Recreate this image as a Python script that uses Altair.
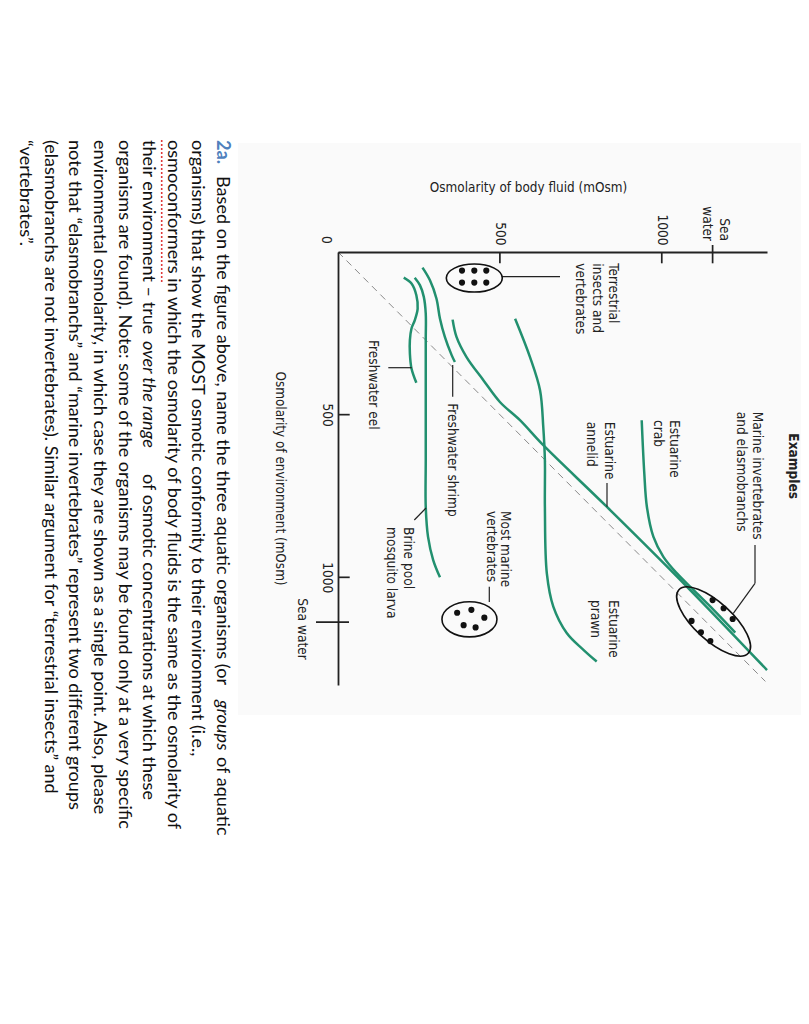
import altair as alt
import pandas as pd

# ---------------- data (mOsm) ----------------
BF_MAX = 1325          # extent of the body-fluid axis
ENV_MAX = 1331         # extent of the environment axis
AXIS_TICKS = [500, 1000]
SEA_WATER_BF = 1157
SEA_WATER_ENV = 1138
ISO_LINE = [0, 1320]

# curves: body-fluid osmolarity (bf) vs environment osmolarity (env)
eel_bf = [203, 227, 242, 246, 237, 227, 222, 222, 227, 242]
eel_env = [79, 97, 133, 174, 210, 235, 271, 312, 358, 402]
larva_bf = [237, 253, 265, 271, 271, 271, 271, 278, 294, 315]
larva_env = [79, 102, 138, 189, 271, 640, 783, 875, 947, 1000]
shrimp_bf = [261, 284, 304, 315, 330, 351, 361]
shrimp_env = [48, 87, 143, 205, 261, 317, 338]
annelid_bf = [354, 366, 397, 449, 500, 562, 634, 830, 1078, 1325]
annelid_env = [208, 261, 323, 394, 461, 517, 594, 783, 1029, 1285]
prawn_bf = [547, 593, 624, 634, 639, 639, 645, 665, 707, 758, 799]
prawn_env = [205, 323, 425, 538, 640, 783, 988, 1090, 1172, 1223, 1259]
crab_bf = [938, 946, 954, 974, 1005, 1047, 1098, 1160, 1227]
crab_env = [517, 680, 783, 875, 937, 988, 1039, 1100, 1170]

# groups shown as clusters of points
terr_bf = [383, 421, 458, 383, 421, 458]
terr_env = [57, 57, 57, 94, 94, 94]
mvert_bf = [368, 412, 452, 388, 425]
mvert_env = [1109, 1100, 1124, 1147, 1154]
minv_bf = [1157, 1191, 1219, 1092, 1121, 1150]
minv_env = [1070, 1095, 1128, 1134, 1169, 1196]
cluster_center_bf = [421, 406, 1160]
cluster_center_env = [80, 1129, 1136]

# ---------------- layout ----------------
W, H = 429, 433
KX, KY = W / BF_MAX, H / ENV_MAX
X0, Y0 = 338, 252          # page position of the axes corner


def bf_at(px):
    return (px - X0) / KX


def env_at(py):
    return (py - Y0) / KY


TEAL = "#22906f"
INK = "#222222"
FIG_FONT = "DejaVu Sans Condensed, Liberation Sans, sans-serif"
FIG_SIZE = 13.6
TXT_FONT = "Lato, Open Sans, sans-serif"
TXT_SIZE = 18.1

SX = alt.Scale(domain=[0, BF_MAX], nice=False, zero=False)
SY = alt.Scale(domain=[0, ENV_MAX], nice=False, zero=False, reverse=True)

AX = alt.Axis(orient="top", values=AXIS_TICKS, format="d", ticks=False, grid=False, zindex=2,
              domainColor=INK, domainWidth=1.8, labelAngle=90,
              labelAlign="right", labelBaseline="middle", labelPadding=7,
              labelFont=FIG_FONT, labelFontSize=FIG_SIZE, labelColor=INK,
              labelFlush=False, labelOverlap=False,
              title="Osmolarity of body fluid (mOsm)", titleFont=FIG_FONT,
              titleFontSize=13.4, titleFontWeight="normal", titleColor=INK,
              titleAngle=0, titleX=190, titleY=-65, titleAlign="center",
              titleBaseline="middle")
AY = alt.Axis(orient="left", values=AXIS_TICKS, format="d", ticks=False, grid=False, zindex=2,
              domainColor=INK, domainWidth=1.8, labelAngle=90,
              labelAlign="center", labelBaseline="top", labelPadding=5,
              labelFont=FIG_FONT, labelFontSize=FIG_SIZE, labelColor=INK,
              labelFlush=False, labelOverlap=False,
              title="Osmolarity of environment (mOsm)", titleFont=FIG_FONT,
              titleFontSize=13.4, titleFontWeight="normal", titleColor=INK,
              titleAngle=90, titleX=-59, titleY=226, titleAlign="center",
              titleBaseline="middle")


def ex(f="bf"):
    return alt.X(f"{f}:Q", scale=SX, axis=AX)


def ey(f="env"):
    return alt.Y(f"{f}:Q", scale=SY, axis=AY)


# ---------------- tables ----------------
curves = []
for name, bs, es in [("eel", eel_bf, eel_env), ("larva", larva_bf, larva_env),
                     ("shrimp", shrimp_bf, shrimp_env), ("annelid", annelid_bf, annelid_env),
                     ("prawn", prawn_bf, prawn_env), ("crab", crab_bf, crab_env)]:
    for i, (b, e) in enumerate(zip(bs, es)):
        curves.append(dict(series=name, i=i, bf=b, env=e))
curves = pd.DataFrame(curves)

iso = pd.DataFrame({"bf": ISO_LINE, "env": ISO_LINE})

dots = pd.DataFrame({"bf": terr_bf + mvert_bf + minv_bf,
                     "env": terr_env + mvert_env + minv_env})

# inward ticks (lengths in px converted to mOsm)
tin_y, tin_x = 11.3 / KY, 11.7 / KX
ticks = pd.DataFrame(
    [dict(bf=v, bf2=v, env=0, env2=tin_y) for v in AXIS_TICKS]
    + [dict(bf=SEA_WATER_BF, bf2=SEA_WATER_BF, env=-7 / KY, env2=tin_y)]
    + [dict(bf=0, bf2=tin_x, env=v, env2=v) for v in AXIS_TICKS]
    + [dict(bf=-22 / KX, bf2=11 / KX, env=SEA_WATER_ENV, env2=SEA_WATER_ENV)]
)

# leader lines (page px -> mOsm)
leader_px = [
    (502, 276.7, 560, 276.7), (388.3, 367.7, 411.7, 367.7),
    (452.7, 365, 452.7, 396.7), (426, 508, 414.3, 520),
    (607, 483, 607, 506.7), (489.3, 586.7, 489.3, 602),
    (755, 545, 755, 583.3), (755, 583.3, 733.3, 613.3),
]
leaders = pd.DataFrame([dict(bf=bf_at(a), env=env_at(b), bf2=bf_at(c), env2=env_at(d))
                        for a, b, c, d in leader_px])

# labels: text, page x of text centre, page y of text start
label_px = [
    ("Marine invertebrates", 757, 411.7), ("and elasmobranchs", 740.5, 411.7),
    ("Estuarine", 674, 420), ("crab", 657.5, 420),
    ("Terrestrial", 613.3, 263.3), ("insects and", 596.7, 263.3), ("vertebrates", 580, 263.3),
    ("Estuarine", 608.7, 421.7), ("annelid", 590.5, 421.7),
    ("Estuarine", 612.8, 600), ("prawn", 594.8, 600),
    ("Most marine", 505, 511), ("vertebrates", 490.5, 511),
    ("Freshwater shrimp", 451.7, 403.3),
    ("Brine pool", 408, 527), ("mosquito larva", 391, 527),
    ("Freshwater eel", 373.2, 340),
]
labels = pd.DataFrame([dict(label=t, bf=bf_at(x), env=env_at(y)) for t, x, y in label_px])
examples = pd.DataFrame([dict(label="Examples", bf=bf_at(793.3), env=env_at(433.3))])
sea_top = pd.DataFrame([dict(label="Sea", bf=bf_at(724.3), env=env_at(241)),
                        dict(label="water", bf=bf_at(707), env=env_at(241))])
sea_left = pd.DataFrame([dict(label="Sea water", bf=bf_at(302), env=env_at(629)),
                         dict(label="0", bf=bf_at(325.7), env=env_at(240))])

ellipse_specs = [  # (center index, width px, minor/major ratio, angle)
    (0, 56, 0.5, 0), (1, 55, 0.64, 0), (2, 94, 0.4, 42.5)]

# question text below the figure (rotated page)
PARA_SEGMENTS = [
    [("2a.", "num"), ("Based on the figure above, name the three aquatic organisms (or", "n"),
     ("groups", "i"), ("of aquatic", "n")],
    [("organisms) that show the MOST osmotic conformity to their environment (i.e.,", "n")],
    [("osmoconformers in which the osmolarity of body fluids is the same as the osmolarity of", "n")],
    [("their environment \u2013 true", "n"), ("over the range", "i"),
     ("of osmotic concentrations at which these", "n")],
    [("organisms are found). Note: some of the organisms may be found only at a very specific", "n")],
    [("environmental osmolarity, in which case they are shown as a single point. Also, please", "n")],
    [("note that \u201celasmobranchs\u201d and \u201cmarine invertebrates\u201d represent two different groups", "n")],
    [("(elasmobranchs are not invertebrates). Similar argument for \u201cterrestrial insects\u201d and", "n")],
    [("\u201cvertebrates\u201d.", "n")],
]
PARA_SEG_START = [[140, 176, 700, 757], [140], [140], [140, 341, 474],
                  [140], [140], [140], [140], [140]]
PARA_X_FIRST, PARA_GAP = 222, 24.6

prow = []
for li, segs in enumerate(PARA_SEGMENTS):
    xpx = PARA_X_FIRST - li * PARA_GAP
    for (txt, st), ypx in zip(segs, PARA_SEG_START[li]):
        prow.append(dict(label=txt, style=st, bf=bf_at(xpx), env=env_at(ypx)))
para = pd.DataFrame(prow)

underline = pd.DataFrame([dict(bf=bf_at(161.7), env=env_at(140), env2=env_at(282))])
backdrop = pd.DataFrame([dict(bf=bf_at(238), bf2=bf_at(801), env=env_at(143), env2=env_at(715))])

# ---------------- layers ----------------
layers = []
layers.append(alt.Chart(backdrop).mark_rect(color="#fafafa").encode(
    x=ex(), x2="bf2:Q", y=ey(), y2="env2:Q"))
layers.append(alt.Chart(iso).mark_line(color="#8a8a8a", strokeWidth=1, strokeDash=[7, 5]).encode(
    x=ex(), y=ey()))
layers.append(alt.Chart(curves).mark_line(color=TEAL, strokeWidth=2.5, interpolate="catmull-rom").encode(
    x=ex(), y=ey(), detail="series:N", order="i:Q"))
layers.append(alt.Chart(ticks).mark_rule(color=INK, strokeWidth=1.7).encode(
    x=ex(), x2="bf2:Q", y=ey(), y2="env2:Q"))
layers.append(alt.Chart(leaders).mark_rule(color=INK, strokeWidth=1.2).encode(
    x=ex(), x2="bf2:Q", y=ey(), y2="env2:Q"))
for ci, wpx, r, ang in ellipse_specs:
    shape = f"M -1 0 A 1 {r} 0 1 1 1 0 A 1 {r} 0 1 1 -1 0 Z"
    df = pd.DataFrame([dict(bf=cluster_center_bf[ci], env=cluster_center_env[ci])])
    layers.append(alt.Chart(df).mark_point(shape=shape, size=wpx * wpx, filled=False,
                                           stroke="#111111", strokeWidth=1.6, opacity=1,
                                           angle=ang).encode(x=ex(), y=ey()))
layers.append(alt.Chart(dots).mark_circle(color="#111111", size=38, opacity=1).encode(
    x=ex(), y=ey()))

txt_common = dict(angle=90, baseline="middle", font=FIG_FONT, fontSize=FIG_SIZE, color=INK)
layers.append(alt.Chart(labels).mark_text(align="left", **txt_common).encode(
    x=ex(), y=ey(), text="label:N"))
layers.append(alt.Chart(examples).mark_text(align="left", fontWeight="bold", **txt_common).encode(
    x=ex(), y=ey(), text="label:N"))
layers.append(alt.Chart(sea_top).mark_text(align="right", **txt_common).encode(
    x=ex(), y=ey(), text="label:N"))
layers.append(alt.Chart(sea_left).mark_text(align="center", **txt_common).encode(
    x=ex(), y=ey(), text="label:N"))

para_common = dict(angle=90, baseline="middle", align="left", font=TXT_FONT, fontSize=TXT_SIZE)
layers.append(alt.Chart(para[para["style"] == "n"]).mark_text(color="#111111", **para_common).encode(
    x=ex(), y=ey(), text="label:N"))
layers.append(alt.Chart(para[para["style"] == "i"]).mark_text(color="#111111", fontStyle="italic",
                                                             **para_common).encode(
    x=ex(), y=ey(), text="label:N"))
layers.append(alt.Chart(para[para["style"] == "num"]).mark_text(color="#4f81bd", fontWeight="bold",
                                                               **para_common).encode(
    x=ex(), y=ey(), text="label:N"))
layers.append(alt.Chart(underline).mark_rule(color="#e03a3a", strokeWidth=1.6, strokeDash=[2, 2]).encode(
    x=ex(), y=ey(), y2="env2:Q"))

chart = alt.layer(*layers).properties(
    width=W, height=H,
    padding={"left": 330, "top": 244, "right": 34, "bottom": 331},
    autosize=alt.AutoSizeParams(type="none"),
).configure_view(stroke=None)

chart.save("out.html", embed_options={"renderer": "svg", "actions": False})
